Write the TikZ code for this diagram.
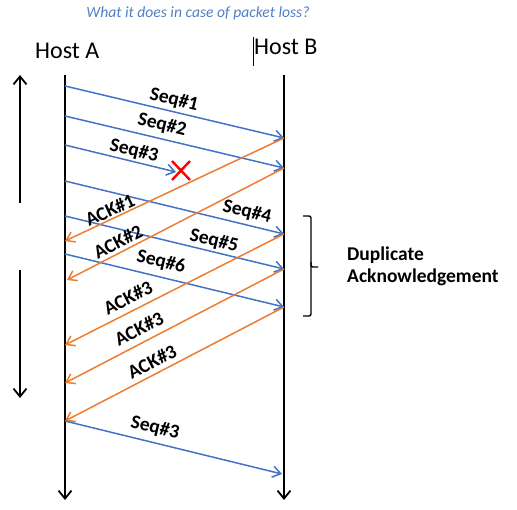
\documentclass[tikz,border=0pt]{standalone}
\usepackage{fontspec}
\setmainfont{Carlito}
\usetikzlibrary{arrows.meta}
\definecolor{seqblue}{HTML}{4472C4}
\definecolor{ackorange}{HTML}{ED7D31}
\definecolor{titleblue}{HTML}{4F7FC6}
\begin{document}
\begin{tikzpicture}[x=1pt, y=-1pt,
    hostline/.style={line width=1.8pt, -{Straight Barb[length=8pt,width=13pt]}},
    seqline/.style={seqblue, line width=1.5pt, -{Straight Barb[length=8pt,width=11pt]}},
    ackline/.style={ackorange, line width=1.5pt, -{Straight Barb[length=8pt,width=11pt]}},
    lbl/.style={font=\fontsize{19.5}{21}\selectfont\bfseries, inner sep=0pt}]
    \useasboundingbox (0,0) rectangle (517,510);

    % Title and host names
    \node[font=\fontsize{15.6}{18}\selectfont\itshape, text=titleblue, anchor=base] (title) at (198,18) {What it does in case of packet loss?};
    \node[font=\fontsize{24}{28}\selectfont, anchor=base west, inner sep=0pt] (hostA) at (35,59) {Host A};
    \node[font=\fontsize{24}{28}\selectfont, anchor=base west, inner sep=0pt] (hostB) at (254,55) {Host B};
    \draw[line width=0.8pt] (253,37) -- (253,66);

    % Timelines
    \coordinate (topA) at (65,75);  \coordinate (botA) at (65,500);
    \coordinate (topB) at (284,75); \coordinate (botB) at (284,500);
    \draw[hostline] (topA) -- (botA);
    \draw[hostline] (topB) -- (botB);

    % Time arrows on the left
    \coordinate (up0) at (20,203); \coordinate (up1) at (20,75);
    \coordinate (dn0) at (20,270); \coordinate (dn1) at (20,398);
    \draw[hostline] (up0) -- (up1);
    \draw[hostline] (dn0) -- (dn1);

    % Segments A -> B
    \foreach \n/\ya/\yb in {1/86/138, 2/116/168, 4/181/234, 5/216/269, 6/254/307} {
        \coordinate (sA\n) at (65,\ya);
        \coordinate (sB\n) at (284,\yb);
        \draw[seqline] (sA\n) -- (sB\n);
    }

    % Lost segment
    \coordinate (sA3) at (65,145);
    \coordinate (lost) at (176,172);
    \draw[seqline] (sA3) -- (lost);
    \draw[red, line width=2.4pt] (172,161) -- (190,180) (190,161) -- (172,180);

    % Acknowledgements B -> A
    \coordinate (kA1) at (65,241);
    \coordinate (kA2) at (67,280);
    \coordinate (kA4) at (65,345);
    \coordinate (kA5) at (65,383);
    \coordinate (kA6) at (65,421);
    \foreach \n in {1,2,4,5,6} {
        \draw[ackline] (sB\n) -- (kA\n);
    }

    % Retransmission
    \coordinate (reB) at (282,474);
    \draw[seqline] (kA6) -- (reB);

    % Labels
    \foreach \x/\y/\t in {174/100/1, 162/125/2, 134/151/3, 247/212/4, 214/241/5, 161/262/6, 155/428/3} {
        \node[lbl, rotate=-13.5] at (\x,\y) {Seq\#\t};
    }
    \node[lbl, rotate=25] (ack1) at (110,210) {ACK\#1};
    \node[lbl, rotate=27] (ack2) at (118,242) {ACK\#2};
    \foreach \x/\y in {128/298, 139/329, 152/362} {
        \node[lbl, rotate=27] at (\x,\y) {ACK\#3};
    }

    % Brace
    \draw[line width=1.4pt, rounded corners=2pt] (303,216) -- (311,216) -- (311,267) -- (318,267);
    \draw[line width=1.4pt, rounded corners=2pt] (311,262) -- (311,316) -- (303,316);
    \node[lbl, anchor=base west] (dup) at (347,261) {Duplicate};
    \node[lbl, anchor=base west] (ackn) at (347,283) {Acknowledgement};
\end{tikzpicture}
\end{document}
